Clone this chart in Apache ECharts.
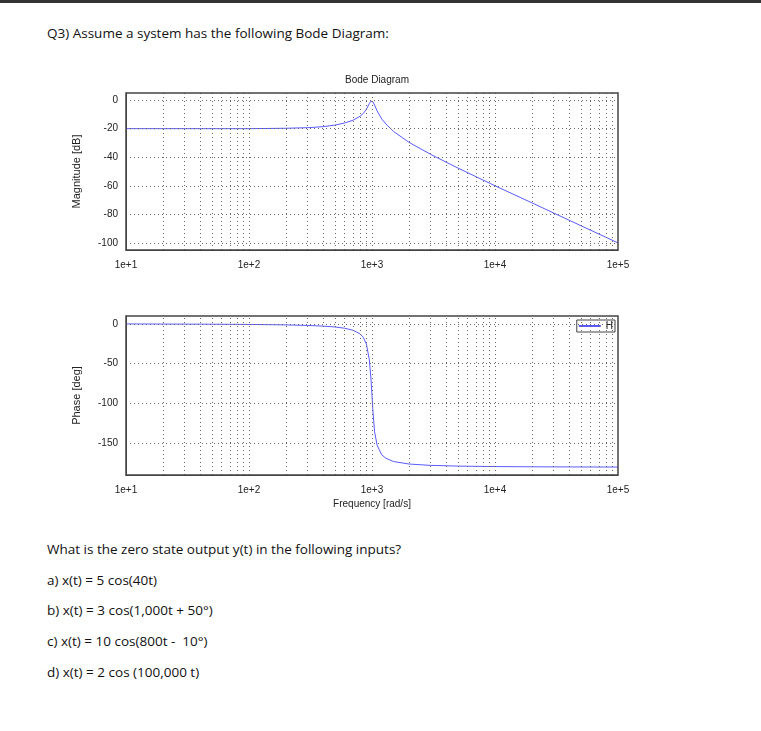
<!DOCTYPE html>
<html><head><meta charset="utf-8">
<script src="https://cdn.jsdelivr.net/npm/echarts@6/dist/echarts.min.js"></script>
<style>
body{margin:0;background:#fff;width:761px;height:731px;position:relative;overflow:hidden;font-family:"Open Sans","Liberation Sans",sans-serif;}
#bar{position:absolute;left:0;top:0;width:761px;height:3px;background:#333;}
#c{position:absolute;left:0;top:0;width:761px;height:520px;}
.t{position:absolute;left:47px;font-size:13.5px;color:#111;}
</style></head><body>
<div id="bar"></div>
<div class="t" style="top:24px">Q3) Assume a system has the following Bode Diagram:</div>
<div id="c"></div>
<div class="t" style="top:540px">What is the zero state output y(t) in the following inputs?</div>
<div class="t" style="top:571px">a) x(t) = 5 cos(40t)</div>
<div class="t" style="top:601px">b) x(t) = 3 cos(1,000t + 50°)</div>
<div class="t" style="top:632px">c) x(t) = 10 cos(800t -&nbsp; 10°)</div>
<div class="t" style="top:663px">d) x(t) = 2 cos (100,000 t)</div>
<script>
const freqs = [10,50,100,200,300,400,500,600,700,800,850,900,950,980,1000,1020,1050,1100,1200,1300,1500,2000,3000,5000,10000,20000,50000,100000];
const magDb = [-20,-20,-20,-19.7,-19.3,-18.6,-17.5,-16,-14.1,-11.3,-9.3,-6.4,-2.5,-0.8,0,-1.2,-3.5,-7.5,-13.2,-16.8,-22,-29.6,-38,-47.6,-60,-72,-88,-100];
const phaseDeg = [0,-0.3,-0.6,-1.2,-1.9,-2.7,-3.8,-5.4,-7.9,-12.5,-16.8,-25.3,-44.3,-68,-90,-112,-135.7,-152.4,-164.7,-169,-173.1,-176.2,-177.9,-178.8,-179.4,-179.7,-179.9,-180];
const xTicks = ['1e+1','1e+2','1e+3','1e+4','1e+5'];
const minorFreqs = [20,30,40,50,60,70,80,90,200,300,400,500,600,700,800,900,2000,3000,4000,5000,6000,7000,8000,9000,20000,30000,40000,50000,60000,70000,80000,90000];
const decades = [100,1000,10000];

const ch = echarts.init(document.getElementById('c'));
const F = 'Liberation Sans';
const dotted = {type:[1,3], color:'#666', width:1};
function xa(i, name){return {type:'log', logBase:10, min:10, max:100000, gridIndex:i,
  name:name||'', nameLocation:'middle', nameGap:24, nameTextStyle:{fontFamily:F,fontSize:10,color:'#222'},
  axisLine:{show:true,onZero:false,lineStyle:{color:'#444'}}, axisTick:{show:false},
  axisLabel:{fontFamily:F,fontSize:10,color:'#222',margin:10,formatter:v=>xTicks[Math.round(Math.log10(v))-1]},
  splitLine:{show:false}};}
function ya(i,min,max,iv,name){return {type:'value',min:min,max:max,interval:iv,gridIndex:i,
  name:name,nameLocation:'middle',nameGap:44,nameTextStyle:{fontFamily:F,fontSize:11,color:'#222'},
  axisLine:{show:true,lineStyle:{color:'#444'}},axisTick:{show:false},
  axisLabel:{fontFamily:F,fontSize:10,color:'#222',showMinLabel:false,showMaxLabel:false,formatter:v=>String(v)},
  splitLine:{show:false}};}
function grid(){return {data:minorFreqs.concat(decades).map(v=>({xAxis:v})),symbol:'none',silent:true,label:{show:false},
  lineStyle:dotted, animation:false};}
ch.setOption({
  animation:false,
  title:{text:'Bode Diagram',left:372,textAlign:'center',top:70,textStyle:{fontFamily:F,fontSize:10,fontWeight:'normal',color:'#222'}},
  grid:[{left:126,right:143,top:93,height:157},{left:126,right:143,top:316,height:159}],
  xAxis:[xa(0),xa(1,'Frequency [rad/s]')],
  yAxis:[ya(0,-105,5,5,'Magnitude [dB]'),ya(1,-190,10,10,'Phase [deg]')].map((y,i)=>{
    const keep = i===0?[0,-20,-40,-60,-80,-100]:[0,-50,-100,-150];
    y.axisLabel.formatter=v=>keep.includes(v)?String(v):'';
    return y;}),
  legend:{data:['H'],right:146,top:320,itemWidth:22,itemHeight:2,itemGap:4,borderColor:'#444',borderWidth:1,padding:[1,2],
    textStyle:{fontFamily:F,fontSize:10,color:'#222'},icon:'rect'},
  series:[
    {name:'H',type:'line',xAxisIndex:0,yAxisIndex:0,data:freqs.map((f,i)=>[f,magDb[i]]),showSymbol:false,smooth:false,
     lineStyle:{color:'#5a5aff',width:1},itemStyle:{color:'#5a5aff'},markLine:grid()},
    {name:'H',type:'line',xAxisIndex:1,yAxisIndex:1,data:freqs.map((f,i)=>[f,phaseDeg[i]]),showSymbol:false,smooth:false,
     lineStyle:{color:'#5a5aff',width:1},itemStyle:{color:'#5a5aff'},markLine:grid()},
    {type:'line',xAxisIndex:0,yAxisIndex:0,data:[],markLine:{symbol:'none',silent:true,label:{show:false},lineStyle:dotted,
      data:[0,-20,-40,-60,-80,-100].map(v=>({yAxis:v}))}},
    {type:'line',xAxisIndex:1,yAxisIndex:1,data:[],markLine:{symbol:'none',silent:true,label:{show:false},lineStyle:dotted,
      data:[0,-50,-100,-150].map(v=>({yAxis:v}))}}
  ],
  graphic:[
    {type:'rect',shape:{x:126,y:93,width:492,height:157},style:{fill:'none',stroke:'#444',lineWidth:1.5},z:100},
    {type:'rect',shape:{x:126,y:316,width:492,height:159},style:{fill:'none',stroke:'#444',lineWidth:1.5},z:100}
  ]
});
</script></body></html>
